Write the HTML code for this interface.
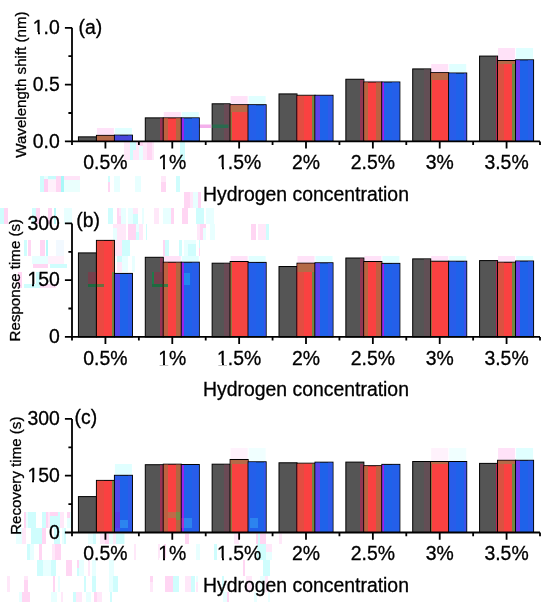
<!DOCTYPE html>
<html><head><meta charset="utf-8"><title>Hydrogen sensing response</title>
<style>
html,body{margin:0;padding:0;background:#fff;}
body{width:550px;height:602px;overflow:hidden;}
svg{display:block;font-family:"Liberation Sans",Arial,sans-serif;}
text{stroke:#000;stroke-width:0.3px;}
</style></head>
<body>
<svg width="550" height="602" viewBox="0 0 550 602">
<rect width="550" height="602" fill="#fff"/>
<rect x="124" y="142" width="4" height="18" fill="#ffe8f9"/>
<rect x="128" y="142" width="2" height="18" fill="#ffe8f9"/>
<rect x="130" y="142" width="3" height="18" fill="#cffdfd"/>
<rect x="133" y="142" width="3" height="8" fill="#cffdfd"/>
<rect x="133" y="150" width="3" height="10" fill="#ffe8f9"/>
<rect x="136" y="142" width="3" height="18" fill="#ffe8f9"/>
<rect x="139" y="142" width="4" height="4" fill="#ffd6f3"/>
<rect x="139" y="146" width="4" height="14" fill="#e8ffff"/>
<rect x="143" y="142" width="4" height="18" fill="#ffe8f9"/>
<rect x="147" y="142" width="5" height="8" fill="#ffd6f3"/>
<rect x="147" y="150" width="5" height="10" fill="#ffd6f3"/>
<rect x="152" y="142" width="2" height="18" fill="#ffe8f9"/>
<rect x="180" y="142" width="5" height="18" fill="#cffdfd"/>
<rect x="108" y="176" width="2" height="6" fill="#cffdfd"/>
<rect x="108" y="182" width="2" height="10" fill="#ffd6f3"/>
<rect x="114" y="176" width="6" height="16" fill="#e8ffff"/>
<rect x="135" y="176" width="6" height="16" fill="#e8ffff"/>
<rect x="161" y="176" width="5" height="6" fill="#ffe8f9"/>
<rect x="161" y="182" width="5" height="10" fill="#ffd6f3"/>
<rect x="176" y="176" width="4" height="16" fill="#cffdfd"/>
<rect x="184" y="192" width="6" height="4" fill="#ffd6f3"/>
<rect x="184" y="196" width="6" height="12" fill="#ffd6f3"/>
<rect x="190" y="192" width="3" height="16" fill="#ffe8f9"/>
<rect x="193" y="192" width="5" height="6" fill="#e8ffff"/>
<rect x="193" y="198" width="5" height="10" fill="#e8ffff"/>
<rect x="198" y="192" width="3" height="16" fill="#ffd6f3"/>
<rect x="108" y="208" width="5" height="16" fill="#cffdfd"/>
<rect x="117" y="208" width="2" height="16" fill="#ffd6f3"/>
<rect x="119" y="208" width="2" height="8" fill="#ffe8f9"/>
<rect x="119" y="216" width="2" height="8" fill="#ffd6f3"/>
<rect x="121" y="208" width="5" height="16" fill="#e8ffff"/>
<rect x="128" y="208" width="5" height="16" fill="#e8ffff"/>
<rect x="133" y="208" width="5" height="6" fill="#ffe8f9"/>
<rect x="133" y="214" width="5" height="10" fill="#cffdfd"/>
<rect x="142" y="208" width="2" height="16" fill="#e8ffff"/>
<rect x="154" y="208" width="5" height="16" fill="#ffe8f9"/>
<rect x="163" y="208" width="8" height="16" fill="#e8ffff"/>
<rect x="171" y="208" width="3" height="16" fill="#ffd6f3"/>
<rect x="182" y="208" width="6" height="16" fill="#ffd6f3"/>
<rect x="196" y="208" width="8" height="16" fill="#cffdfd"/>
<rect x="206" y="208" width="8" height="8" fill="#e8ffff"/>
<rect x="206" y="216" width="8" height="8" fill="#e8ffff"/>
<rect x="113" y="224" width="4" height="4" fill="#ffe8f9"/>
<rect x="113" y="228" width="4" height="12" fill="#e8ffff"/>
<rect x="117" y="224" width="3" height="16" fill="#ffe8f9"/>
<rect x="120" y="224" width="6" height="16" fill="#ffe8f9"/>
<rect x="128" y="224" width="8" height="16" fill="#ffd6f3"/>
<rect x="136" y="224" width="3" height="8" fill="#e8ffff"/>
<rect x="136" y="232" width="3" height="8" fill="#cffdfd"/>
<rect x="139" y="224" width="4" height="16" fill="#ffe8f9"/>
<rect x="146" y="224" width="1" height="16" fill="#cffdfd"/>
<rect x="197" y="224" width="3" height="16" fill="#ffe8f9"/>
<rect x="200" y="224" width="3" height="16" fill="#ffd6f3"/>
<rect x="203" y="224" width="3" height="4" fill="#ffd6f3"/>
<rect x="203" y="228" width="3" height="12" fill="#e8ffff"/>
<rect x="210" y="224" width="5" height="16" fill="#e8ffff"/>
<rect x="251" y="224" width="5" height="16" fill="#ffd6f3"/>
<rect x="258" y="224" width="8" height="16" fill="#ffe8f9"/>
<rect x="266" y="224" width="3" height="16" fill="#cffdfd"/>
<rect x="114" y="240" width="8" height="6" fill="#ffe8f9"/>
<rect x="114" y="246" width="8" height="10" fill="#ffe8f9"/>
<rect x="122" y="240" width="8" height="16" fill="#cffdfd"/>
<rect x="163" y="240" width="2" height="16" fill="#ffd6f3"/>
<rect x="165" y="240" width="4" height="16" fill="#cffdfd"/>
<rect x="179" y="240" width="3" height="16" fill="#cffdfd"/>
<rect x="184" y="240" width="4" height="16" fill="#e8ffff"/>
<rect x="188" y="240" width="8" height="4" fill="#e8ffff"/>
<rect x="188" y="244" width="8" height="12" fill="#cffdfd"/>
<rect x="199" y="240" width="1" height="8" fill="#cffdfd"/>
<rect x="199" y="248" width="1" height="8" fill="#ffd6f3"/>
<rect x="117" y="256" width="5" height="6" fill="#cffdfd"/>
<rect x="117" y="262" width="5" height="10" fill="#ffe8f9"/>
<rect x="122" y="256" width="6" height="16" fill="#e8ffff"/>
<rect x="132" y="256" width="3" height="16" fill="#e8ffff"/>
<rect x="24" y="512" width="2" height="16" fill="#ffd6f3"/>
<rect x="26" y="512" width="2" height="4" fill="#e8ffff"/>
<rect x="26" y="516" width="2" height="12" fill="#e8ffff"/>
<rect x="28" y="512" width="8" height="16" fill="#cffdfd"/>
<rect x="42" y="512" width="4" height="16" fill="#cffdfd"/>
<rect x="46" y="512" width="2" height="16" fill="#ffd6f3"/>
<rect x="48" y="512" width="2" height="16" fill="#ffe8f9"/>
<rect x="50" y="512" width="8" height="4" fill="#ffd6f3"/>
<rect x="50" y="516" width="8" height="12" fill="#cffdfd"/>
<rect x="58" y="512" width="2" height="16" fill="#cffdfd"/>
<rect x="60" y="512" width="4" height="16" fill="#ffe8f9"/>
<rect x="67" y="512" width="3" height="6" fill="#ffd6f3"/>
<rect x="67" y="518" width="3" height="10" fill="#e8ffff"/>
<rect x="70" y="512" width="2" height="16" fill="#e8ffff"/>
<rect x="16" y="528" width="6" height="16" fill="#e8ffff"/>
<rect x="22" y="528" width="4" height="16" fill="#ffe8f9"/>
<rect x="31" y="528" width="5" height="8" fill="#cffdfd"/>
<rect x="31" y="536" width="5" height="8" fill="#cffdfd"/>
<rect x="36" y="528" width="6" height="16" fill="#cffdfd"/>
<rect x="42" y="528" width="4" height="16" fill="#ffd6f3"/>
<rect x="54" y="528" width="6" height="16" fill="#cffdfd"/>
<rect x="62" y="528" width="2" height="16" fill="#e8ffff"/>
<rect x="64" y="528" width="2" height="16" fill="#cffdfd"/>
<rect x="88" y="533.5" width="5" height="10.5" fill="#e8ffff"/>
<rect x="93" y="533.5" width="3" height="10.5" fill="#cffdfd"/>
<rect x="100" y="533.5" width="5" height="10.5" fill="#ffe8f9"/>
<rect x="105" y="533.5" width="4" height="10.5" fill="#ffd6f3"/>
<rect x="109" y="533.5" width="4" height="10.5" fill="#e8ffff"/>
<rect x="113" y="533.5" width="3" height="10.5" fill="#ffe8f9"/>
<rect x="116" y="533.5" width="8" height="10.5" fill="#cffdfd"/>
<rect x="124" y="533.5" width="1" height="10.5" fill="#e8ffff"/>
<rect x="185" y="533.5" width="4" height="10.5" fill="#ffd6f3"/>
<rect x="234" y="533.5" width="5" height="10.5" fill="#ffe8f9"/>
<rect x="256" y="533.5" width="2" height="10.5" fill="#ffd6f3"/>
<rect x="258" y="533.5" width="2" height="10.5" fill="#cffdfd"/>
<rect x="260" y="533.5" width="6" height="10.5" fill="#ffd6f3"/>
<rect x="279" y="533.5" width="3" height="10.5" fill="#ffe8f9"/>
<rect x="27" y="544" width="3" height="16" fill="#cffdfd"/>
<rect x="30" y="544" width="4" height="16" fill="#e8ffff"/>
<rect x="39" y="544" width="3" height="16" fill="#ffd6f3"/>
<rect x="52" y="544" width="3" height="16" fill="#ffe8f9"/>
<rect x="55" y="544" width="6" height="16" fill="#ffd6f3"/>
<rect x="134" y="544" width="2" height="16" fill="#ffe8f9"/>
<rect x="158" y="544" width="2" height="16" fill="#ffe8f9"/>
<rect x="164" y="544" width="2" height="4" fill="#ffd6f3"/>
<rect x="164" y="548" width="2" height="12" fill="#ffd6f3"/>
<rect x="196" y="544" width="4" height="16" fill="#e8ffff"/>
<rect x="214" y="544" width="3" height="16" fill="#cffdfd"/>
<rect x="257" y="544" width="4" height="16" fill="#cffdfd"/>
<rect x="261" y="544" width="5" height="16" fill="#cffdfd"/>
<rect x="266" y="544" width="6" height="8" fill="#ffe8f9"/>
<rect x="266" y="552" width="6" height="8" fill="#e8ffff"/>
<rect x="37" y="560" width="6" height="16" fill="#cffdfd"/>
<rect x="43" y="560" width="8" height="16" fill="#e8ffff"/>
<rect x="51" y="560" width="5" height="16" fill="#cffdfd"/>
<rect x="66" y="560" width="6" height="16" fill="#ffd6f3"/>
<rect x="77" y="560" width="2" height="8" fill="#ffd6f3"/>
<rect x="77" y="568" width="2" height="8" fill="#cffdfd"/>
<rect x="79" y="560" width="5" height="16" fill="#e8ffff"/>
<rect x="88" y="560" width="2" height="8" fill="#ffe8f9"/>
<rect x="88" y="568" width="2" height="8" fill="#ffe8f9"/>
<rect x="92" y="560" width="4" height="16" fill="#e8ffff"/>
<rect x="109" y="560" width="5" height="16" fill="#e8ffff"/>
<rect x="243" y="560" width="2" height="16" fill="#ffd6f3"/>
<rect x="263" y="560" width="3" height="16" fill="#cffdfd"/>
<rect x="266" y="560" width="4" height="16" fill="#cffdfd"/>
<rect x="7" y="576" width="3" height="16" fill="#ffe8f9"/>
<rect x="24" y="576" width="4" height="4" fill="#ffe8f9"/>
<rect x="24" y="580" width="4" height="12" fill="#ffd6f3"/>
<rect x="53" y="576" width="2" height="16" fill="#ffd6f3"/>
<rect x="58" y="576" width="2" height="16" fill="#e8ffff"/>
<rect x="84" y="576" width="2" height="16" fill="#cffdfd"/>
<rect x="92" y="576" width="4" height="16" fill="#cffdfd"/>
<rect x="109" y="576" width="4" height="16" fill="#e8ffff"/>
<rect x="113" y="576" width="5" height="16" fill="#cffdfd"/>
<rect x="150" y="576" width="3" height="6" fill="#ffd6f3"/>
<rect x="150" y="582" width="3" height="10" fill="#ffe8f9"/>
<rect x="165" y="576" width="6" height="16" fill="#ffd6f3"/>
<rect x="171" y="576" width="2" height="16" fill="#ffd6f3"/>
<rect x="173" y="576" width="6" height="16" fill="#cffdfd"/>
<rect x="185" y="576" width="6" height="16" fill="#ffe8f9"/>
<rect x="191" y="576" width="4" height="8" fill="#cffdfd"/>
<rect x="191" y="584" width="4" height="8" fill="#cffdfd"/>
<rect x="196" y="576" width="2" height="6" fill="#e8ffff"/>
<rect x="196" y="582" width="2" height="10" fill="#ffe8f9"/>
<rect x="222" y="576" width="2" height="8" fill="#cffdfd"/>
<rect x="222" y="584" width="2" height="8" fill="#cffdfd"/>
<rect x="246" y="576" width="4" height="16" fill="#ffe8f9"/>
<rect x="250" y="576" width="2" height="16" fill="#ffe8f9"/>
<rect x="260" y="576" width="5" height="16" fill="#e8ffff"/>
<rect x="265" y="576" width="3" height="4" fill="#ffe8f9"/>
<rect x="265" y="580" width="3" height="12" fill="#ffe8f9"/>
<rect x="19" y="592" width="3" height="10" fill="#e8ffff"/>
<rect x="22" y="592" width="8" height="10" fill="#ffd6f3"/>
<rect x="51" y="592" width="6" height="10" fill="#e8ffff"/>
<rect x="61" y="592" width="2" height="10" fill="#ffe8f9"/>
<rect x="73" y="592" width="3" height="10" fill="#cffdfd"/>
<rect x="76" y="592" width="6" height="10" fill="#ffe8f9"/>
<rect x="86" y="592" width="5" height="10" fill="#e8ffff"/>
<rect x="94" y="592" width="3" height="10" fill="#ffd6f3"/>
<rect x="97" y="592" width="5" height="10" fill="#ffe8f9"/>
<rect x="110" y="592" width="2" height="10" fill="#cffdfd"/>
<rect x="223" y="592" width="4" height="10" fill="#e8ffff"/>
<rect x="227" y="592" width="2" height="10" fill="#ffd6f3"/>
<rect x="254" y="592" width="3" height="10" fill="#e8ffff"/>
<rect x="268" y="592" width="2" height="10" fill="#e8ffff"/>
<rect x="195" y="124.5" width="16" height="3.5" fill="#f4b0ec"/>
<rect x="40" y="176" width="4" height="16" fill="#cffdfd"/>
<rect x="44" y="176" width="4" height="3" fill="#e8ffff"/>
<rect x="44" y="179" width="4" height="13" fill="#ffd0f2"/>
<rect x="48" y="176" width="8" height="3.5" fill="#c8fcfc"/>
<rect x="48" y="179.5" width="8" height="12.5" fill="#fff0fb"/>
<rect x="56" y="176" width="5" height="16" fill="#ffd6f3"/>
<rect x="61" y="176" width="3" height="16" fill="#a8f8f8"/>
<rect x="64" y="176" width="16" height="4" fill="#ffe4f8"/>
<rect x="64" y="180" width="16" height="12" fill="#eafffd"/>
<rect x="0" y="208" width="4" height="16" fill="#cffdfd"/>
<rect x="4" y="208" width="4" height="16" fill="#ffd6f3"/>
<rect x="32" y="208" width="4" height="16" fill="#cffdfd"/>
<rect x="36" y="208" width="4" height="16" fill="#ffd6f3"/>
<rect x="48" y="208" width="4" height="16" fill="#ffd6f3"/>
<rect x="54" y="208" width="2" height="16" fill="#b8fafa"/>
<rect x="64" y="208" width="8" height="16" fill="#e8ffff"/>
<rect x="24" y="240" width="3" height="16" fill="#cffdfd"/>
<rect x="28" y="240" width="3" height="16" fill="#ffd6f3"/>
<rect x="40" y="240" width="5" height="16" fill="#ffd6f3"/>
<rect x="46" y="240" width="2" height="16" fill="#b8fafa"/>
<rect x="56" y="240" width="8" height="16" fill="#f2f9ff"/>
<rect x="32" y="256" width="16" height="8" fill="#e8ffff"/>
<rect x="48" y="256" width="16" height="8" fill="#fff0fb"/>
<rect x="33" y="264" width="15" height="4" fill="#ffd6f3"/>
<rect x="50" y="264" width="17" height="4" fill="#cffdfd"/>
<rect x="18" y="272" width="4" height="16" fill="#ffd6f3"/>
<rect x="36" y="272" width="4" height="12" fill="#cffdfd"/>
<rect x="24" y="284" width="16" height="4" fill="#cffdfd"/>
<rect x="40" y="284" width="16" height="4" fill="#ffe0f6"/>
<rect x="96.93" y="128" width="17" height="6.88" fill="#ffe2f8"/>
<rect x="114.93" y="128" width="17" height="6.65" fill="#e0ffff"/>
<rect x="163.79" y="112" width="17" height="5.38" fill="#ffe2f8"/>
<rect x="181.79" y="112" width="17" height="5.38" fill="#e0ffff"/>
<rect x="230.64" y="96" width="17" height="8.21" fill="#ffe2f8"/>
<rect x="248.64" y="96" width="17" height="8.21" fill="#e0ffff"/>
<rect x="364.36" y="80" width="17" height="1.49" fill="#fff2fc"/>
<rect x="382.36" y="80" width="17" height="1.49" fill="#f0ffff"/>
<rect x="431.21" y="64" width="17" height="8.17" fill="#ffe2f8"/>
<rect x="449.21" y="64" width="17" height="8.51" fill="#e0ffff"/>
<rect x="498.07" y="48" width="17" height="12.02" fill="#ffe2f8"/>
<rect x="516.07" y="48" width="17" height="11.34" fill="#e0ffff"/>
<rect x="163.79" y="256" width="17" height="5.72" fill="#ffe2f8"/>
<rect x="181.79" y="256" width="17" height="5.72" fill="#e0ffff"/>
<rect x="230.64" y="256" width="17" height="5" fill="#ffe2f8"/>
<rect x="248.64" y="256" width="17" height="5.91" fill="#e0ffff"/>
<rect x="297.5" y="256" width="17" height="6.7" fill="#ffe2f8"/>
<rect x="315.5" y="256" width="17" height="6.28" fill="#e0ffff"/>
<rect x="364.36" y="256" width="17" height="5" fill="#ffe2f8"/>
<rect x="382.36" y="256" width="17" height="6.89" fill="#e0ffff"/>
<rect x="431.21" y="256" width="17" height="4.73" fill="#ffe2f8"/>
<rect x="449.21" y="256" width="17" height="4.73" fill="#e0ffff"/>
<rect x="498.07" y="256" width="17" height="5.72" fill="#ffe2f8"/>
<rect x="516.07" y="256" width="17" height="4.51" fill="#e0ffff"/>
<rect x="114.93" y="464" width="17" height="10.82" fill="#e0ffff"/>
<rect x="230.64" y="448" width="17" height="10.99" fill="#fff2fc"/>
<rect x="248.64" y="448" width="17" height="13.3" fill="#f0ffff"/>
<rect x="431.21" y="448" width="17" height="13" fill="#fff2fc"/>
<rect x="449.21" y="448" width="17" height="13" fill="#f0ffff"/>
<rect x="498.07" y="448" width="17" height="11.79" fill="#ffe2f8"/>
<rect x="516.07" y="448" width="17" height="11.79" fill="#e0ffff"/>
<rect x="78.43" y="136.86" width="18" height="4.54" fill="#555555" stroke="#000" stroke-width="1"/>
<rect x="96.43" y="135.38" width="18" height="6.02" fill="#fa4141" stroke="#000" stroke-width="1"/>
<rect x="96.93" y="135.88" width="7.07" height="4.62" fill="#b46a48"/>
<rect x="104" y="135.88" width="8" height="4.62" fill="#b46a48"/>
<rect x="112" y="135.88" width="1.93" height="4.62" fill="#b46a48"/>
<rect x="114.43" y="135.15" width="18" height="6.25" fill="#1f62ea" stroke="#000" stroke-width="1"/>
<rect x="114.93" y="135.65" width="5.07" height="4.85" fill="#5447ea"/>
<rect x="128" y="135.65" width="3.93" height="4.85" fill="#2c5bea"/>
<rect x="114.93" y="135.9" width="17" height="4.6" fill="#4646dc"/>
<rect x="145.29" y="117.88" width="18" height="23.52" fill="#555555" stroke="#000" stroke-width="1"/>
<rect x="160" y="118.38" width="2.79" height="22.12" fill="#983355"/>
<rect x="163.29" y="117.88" width="18" height="23.52" fill="#fa4141" stroke="#000" stroke-width="1"/>
<rect x="163.79" y="118.38" width="4.21" height="22.12" fill="#bc6141"/>
<rect x="176" y="118.38" width="4.79" height="22.12" fill="#b36541"/>
<rect x="181.29" y="117.88" width="18" height="23.52" fill="#1f62ea" stroke="#000" stroke-width="1"/>
<rect x="181.79" y="118.38" width="2.21" height="22.12" fill="#9825ea"/>
<rect x="192" y="118.38" width="6.79" height="22.12" fill="#285dea"/>
<rect x="212.14" y="103.8" width="18" height="37.6" fill="#555555" stroke="#000" stroke-width="1"/>
<rect x="224" y="104.3" width="5.64" height="36.2" fill="#6a4a55"/>
<rect x="212.5" y="124.5" width="16" height="3.5" fill="#2a6a4e"/>
<rect x="230.14" y="104.71" width="18" height="36.69" fill="#fa4141" stroke="#000" stroke-width="1"/>
<rect x="230.64" y="105.21" width="1.36" height="6.79" fill="#b46a48"/>
<rect x="230.64" y="112" width="1.36" height="28.5" fill="#8e7841"/>
<rect x="232" y="105.21" width="8" height="6.79" fill="#b46a48"/>
<rect x="240" y="105.21" width="7.64" height="6.79" fill="#b46a48"/>
<rect x="240" y="112" width="7.64" height="28.5" fill="#f04641"/>
<rect x="248.14" y="104.71" width="18" height="36.69" fill="#1f62ea" stroke="#000" stroke-width="1"/>
<rect x="248.64" y="105.21" width="7.36" height="35.29" fill="#245fea"/>
<rect x="264" y="105.21" width="1.64" height="35.29" fill="#3a54ea"/>
<rect x="279" y="93.92" width="18" height="47.48" fill="#555555" stroke="#000" stroke-width="1"/>
<rect x="296" y="94.42" width="0.5" height="1.58" fill="#664d55"/>
<rect x="296" y="96" width="0.5" height="44.5" fill="#be1f55"/>
<rect x="297" y="95.28" width="18" height="46.12" fill="#fa4141" stroke="#000" stroke-width="1"/>
<rect x="297.5" y="95.78" width="6.5" height="0.22" fill="#b46a48"/>
<rect x="297.5" y="96" width="6.5" height="44.5" fill="#e24d41"/>
<rect x="304" y="95.78" width="8" height="0.22" fill="#b46a48"/>
<rect x="312" y="95.78" width="2.5" height="0.22" fill="#b46a48"/>
<rect x="312" y="96" width="2.5" height="44.5" fill="#718741"/>
<rect x="315" y="95.28" width="18" height="46.12" fill="#1f62ea" stroke="#000" stroke-width="1"/>
<rect x="315.5" y="95.78" width="4.5" height="44.72" fill="#5e42ea"/>
<rect x="320" y="95.78" width="8" height="0.22" fill="#5845ea"/>
<rect x="328" y="95.78" width="4.5" height="0.22" fill="#5a44ea"/>
<rect x="328" y="96" width="4.5" height="44.5" fill="#2f5aea"/>
<rect x="345.86" y="79.26" width="18" height="62.14" fill="#555555" stroke="#000" stroke-width="1"/>
<rect x="360" y="80" width="3.36" height="16" fill="#893b55"/>
<rect x="360" y="96" width="3.36" height="44.5" fill="#913755"/>
<rect x="363.86" y="81.99" width="18" height="59.41" fill="#fa4141" stroke="#000" stroke-width="1"/>
<rect x="364.36" y="82.49" width="3.64" height="58.01" fill="#b46541"/>
<rect x="376" y="82.49" width="5.36" height="58.01" fill="#be6041"/>
<rect x="381.86" y="81.99" width="18" height="59.41" fill="#1f62ea" stroke="#000" stroke-width="1"/>
<rect x="382.36" y="82.49" width="1.64" height="58.01" fill="#a31fea"/>
<rect x="392" y="82.49" width="7.36" height="58.01" fill="#245fea"/>
<rect x="412.71" y="68.92" width="18" height="72.48" fill="#555555" stroke="#000" stroke-width="1"/>
<rect x="424" y="69.42" width="6.21" height="10.58" fill="#5f5055"/>
<rect x="424" y="80" width="6.21" height="60.5" fill="#634e55"/>
<rect x="430.71" y="72.67" width="18" height="68.73" fill="#fa4141" stroke="#000" stroke-width="1"/>
<rect x="431.21" y="73.17" width="0.79" height="6.83" fill="#b46a48"/>
<rect x="431.21" y="80" width="0.79" height="60.5" fill="#867c41"/>
<rect x="432" y="73.17" width="8" height="6.83" fill="#b46a48"/>
<rect x="440" y="73.17" width="8" height="6.83" fill="#b46a48"/>
<rect x="448" y="73.17" width="0.21" height="6.83" fill="#b46a48"/>
<rect x="448" y="80" width="0.21" height="60.5" fill="#718741"/>
<rect x="448.71" y="73.01" width="18" height="68.39" fill="#1f62ea" stroke="#000" stroke-width="1"/>
<rect x="449.21" y="73.51" width="6.79" height="66.99" fill="#285dea"/>
<rect x="464" y="73.51" width="2.21" height="66.99" fill="#3c53ea"/>
<rect x="479.57" y="56.09" width="18" height="85.31" fill="#555555" stroke="#000" stroke-width="1"/>
<rect x="496" y="56.59" width="1.07" height="7.41" fill="#923655"/>
<rect x="496" y="64" width="1.07" height="76.5" fill="#b62455"/>
<rect x="497.57" y="60.52" width="18" height="80.88" fill="#fa4141" stroke="#000" stroke-width="1"/>
<rect x="498.07" y="61.02" width="5.93" height="2.98" fill="#b46a48"/>
<rect x="498.07" y="64" width="5.93" height="76.5" fill="#d95241"/>
<rect x="504" y="61.02" width="8" height="2.98" fill="#b46a48"/>
<rect x="512" y="61.02" width="3.07" height="2.98" fill="#b46a48"/>
<rect x="512" y="64" width="3.07" height="76.5" fill="#718741"/>
<rect x="515.57" y="59.84" width="18" height="81.56" fill="#1f62ea" stroke="#000" stroke-width="1"/>
<rect x="516.07" y="60.34" width="3.93" height="80.16" fill="#6f39ea"/>
<rect x="528" y="60.34" width="5.07" height="80.16" fill="#295dea"/>
<path d="M72 27.8V145.1M65 141.4H540M64.9 141.4H72M68.4 113H72M64.9 84.6H72M68.4 56.2H72M64.9 27.8H72M72 141.4V145.1M105.43 141.4V148.6M138.86 141.4V145.1M172.29 141.4V148.6M205.71 141.4V145.1M239.14 141.4V148.6M272.57 141.4V145.1M306 141.4V148.6M339.43 141.4V145.1M372.86 141.4V148.6M406.29 141.4V145.1M439.71 141.4V148.6M473.14 141.4V145.1M506.57 141.4V148.6M540 141.4V145.1" stroke="#000" stroke-width="1.8" fill="none"/>
<text x="59.8" y="147.7" text-anchor="end" font-size="19.4">0.0</text>
<text x="59.8" y="90.9" text-anchor="end" font-size="19.4">0.5</text>
<text x="59.8" y="34.1" text-anchor="end" font-size="19.4">1.0</text>
<rect x="34" y="32" width="4" height="3" fill="#fff"/>
<rect x="40" y="32" width="3" height="3" fill="#fff"/>
<text x="105.43" y="169.2" text-anchor="middle" font-size="19.4">0.5%</text>
<text x="172.29" y="169.2" text-anchor="middle" font-size="19.4">1%</text>
<rect x="159" y="167" width="4" height="3" fill="#fff"/>
<rect x="165" y="167" width="4" height="3" fill="#fff"/>
<text x="239.14" y="169.2" text-anchor="middle" font-size="19.4">1.5%</text>
<rect x="218" y="167" width="4" height="3" fill="#fff"/>
<rect x="224" y="167" width="4" height="3" fill="#fff"/>
<text x="306" y="169.2" text-anchor="middle" font-size="19.4">2%</text>
<text x="372.86" y="169.2" text-anchor="middle" font-size="19.4">2.5%</text>
<text x="439.71" y="169.2" text-anchor="middle" font-size="19.4">3%</text>
<text x="506.57" y="169.2" text-anchor="middle" font-size="19.4">3.5%</text>
<text x="306" y="200.8" text-anchor="middle" font-size="19.4">Hydrogen concentration</text>
<text transform="translate(25.7 84.6) rotate(-90)" text-anchor="middle" font-size="15.1">Wavelength shift (nm)</text>
<text x="78.5" y="33.8" font-size="19.4">(a)</text>
<rect x="78.43" y="252.91" width="18" height="83.99" fill="#555555" stroke="#000" stroke-width="1"/>
<rect x="88" y="272" width="8.4" height="12" fill="#74404c"/>
<rect x="88" y="284" width="8.4" height="3" fill="#1e6a40"/>
<rect x="96.43" y="240.39" width="18" height="96.51" fill="#fa4141" stroke="#000" stroke-width="1"/>
<rect x="96.93" y="240.89" width="7.07" height="95.11" fill="#ea4941"/>
<rect x="112" y="240.89" width="1.93" height="31.11" fill="#cd5841"/>
<rect x="112" y="272" width="1.93" height="64" fill="#718741"/>
<rect x="96.93" y="284" width="7.07" height="3" fill="#6a7040"/>
<rect x="114.43" y="273.42" width="18" height="63.48" fill="#1f62ea" stroke="#000" stroke-width="1"/>
<rect x="114.93" y="273.92" width="5.07" height="62.08" fill="#5447ea"/>
<rect x="128" y="273.92" width="3.93" height="62.08" fill="#2c5bea"/>
<rect x="145.29" y="257.3" width="18" height="79.6" fill="#555555" stroke="#000" stroke-width="1"/>
<rect x="160" y="257.8" width="2.79" height="14.2" fill="#873c55"/>
<rect x="160" y="272" width="2.79" height="64" fill="#983355"/>
<rect x="152" y="272" width="10.8" height="12" fill="#74404c"/>
<rect x="152" y="272" width="2" height="15" fill="#1e7a4a"/>
<rect x="152" y="284" width="10.8" height="3" fill="#1e6a40"/>
<rect x="163.29" y="262.22" width="18" height="74.68" fill="#fa4141" stroke="#000" stroke-width="1"/>
<rect x="163.79" y="262.72" width="4.21" height="73.28" fill="#bc6141"/>
<rect x="176" y="262.72" width="4.79" height="73.28" fill="#b36541"/>
<rect x="163.8" y="284" width="4.2" height="3" fill="#3a7a46"/>
<rect x="181.29" y="262.22" width="18" height="74.68" fill="#1f62ea" stroke="#000" stroke-width="1"/>
<rect x="181.79" y="262.72" width="2.21" height="73.28" fill="#9825ea"/>
<rect x="192" y="262.72" width="6.79" height="73.28" fill="#285dea"/>
<rect x="184" y="273" width="6" height="12" fill="#2088f0"/>
<rect x="212.14" y="263.2" width="18" height="73.7" fill="#555555" stroke="#000" stroke-width="1"/>
<rect x="224" y="263.7" width="5.64" height="72.3" fill="#6a4a55"/>
<rect x="230.14" y="261.5" width="18" height="75.4" fill="#fa4141" stroke="#000" stroke-width="1"/>
<rect x="230.64" y="262" width="1.36" height="74" fill="#8e7841"/>
<rect x="240" y="262" width="7.64" height="74" fill="#f04641"/>
<rect x="248.14" y="262.41" width="18" height="74.49" fill="#1f62ea" stroke="#000" stroke-width="1"/>
<rect x="248.64" y="262.91" width="7.36" height="73.09" fill="#245fea"/>
<rect x="264" y="262.91" width="1.64" height="73.09" fill="#3a54ea"/>
<rect x="279" y="266.53" width="18" height="70.37" fill="#555555" stroke="#000" stroke-width="1"/>
<rect x="296" y="267.03" width="0.5" height="68.97" fill="#be1f55"/>
<rect x="297" y="263.2" width="18" height="73.7" fill="#fa4141" stroke="#000" stroke-width="1"/>
<rect x="297.5" y="263.7" width="6.5" height="8.3" fill="#b46a48"/>
<rect x="297.5" y="272" width="6.5" height="64" fill="#e24d41"/>
<rect x="304" y="263.7" width="8" height="8.3" fill="#b46a48"/>
<rect x="312" y="263.7" width="2.5" height="8.3" fill="#b46a48"/>
<rect x="312" y="272" width="2.5" height="64" fill="#718741"/>
<rect x="315" y="262.78" width="18" height="74.12" fill="#1f62ea" stroke="#000" stroke-width="1"/>
<rect x="315.5" y="263.28" width="4.5" height="72.72" fill="#5f42ea"/>
<rect x="328" y="263.28" width="4.5" height="72.72" fill="#2f5aea"/>
<rect x="345.86" y="258.02" width="18" height="78.88" fill="#555555" stroke="#000" stroke-width="1"/>
<rect x="360" y="258.52" width="3.36" height="13.48" fill="#863c55"/>
<rect x="360" y="272" width="3.36" height="64" fill="#913755"/>
<rect x="363.86" y="261.5" width="18" height="75.4" fill="#fa4141" stroke="#000" stroke-width="1"/>
<rect x="364.36" y="262" width="3.64" height="74" fill="#b46541"/>
<rect x="376" y="262" width="5.36" height="74" fill="#c15e41"/>
<rect x="381.86" y="263.39" width="18" height="73.51" fill="#1f62ea" stroke="#000" stroke-width="1"/>
<rect x="382.36" y="263.89" width="1.64" height="72.11" fill="#a31fea"/>
<rect x="392" y="263.89" width="7.36" height="72.11" fill="#245fea"/>
<rect x="412.71" y="258.89" width="18" height="78.01" fill="#555555" stroke="#000" stroke-width="1"/>
<rect x="424" y="259.39" width="6.21" height="76.61" fill="#614f55"/>
<rect x="430.71" y="261.23" width="18" height="75.67" fill="#fa4141" stroke="#000" stroke-width="1"/>
<rect x="431.21" y="261.73" width="0.79" height="74.27" fill="#867c41"/>
<rect x="448" y="261.73" width="0.21" height="74.27" fill="#718741"/>
<rect x="448.71" y="261.23" width="18" height="75.67" fill="#1f62ea" stroke="#000" stroke-width="1"/>
<rect x="449.21" y="261.73" width="6.79" height="74.27" fill="#285dea"/>
<rect x="464" y="261.73" width="2.21" height="74.27" fill="#3c53ea"/>
<rect x="479.57" y="260.59" width="18" height="76.31" fill="#555555" stroke="#000" stroke-width="1"/>
<rect x="496" y="261.09" width="1.07" height="10.91" fill="#ae2855"/>
<rect x="496" y="272" width="1.07" height="64" fill="#b62455"/>
<rect x="497.57" y="262.22" width="18" height="74.68" fill="#fa4141" stroke="#000" stroke-width="1"/>
<rect x="498.07" y="262.72" width="5.93" height="73.28" fill="#d95241"/>
<rect x="512" y="262.72" width="3.07" height="73.28" fill="#718741"/>
<rect x="515.57" y="261.01" width="18" height="75.89" fill="#1f62ea" stroke="#000" stroke-width="1"/>
<rect x="516.07" y="261.51" width="3.93" height="10.49" fill="#6b3bea"/>
<rect x="516.07" y="272" width="3.93" height="64" fill="#6f39ea"/>
<rect x="528" y="261.51" width="5.07" height="74.49" fill="#295dea"/>
<path d="M72 223.4V340.6M65 336.9H540M64.9 336.9H72M68.4 308.52H72M64.9 280.15H72M68.4 251.78H72M64.9 223.4H72M72 336.9V340.6M105.43 336.9V344.1M138.86 336.9V340.6M172.29 336.9V344.1M205.71 336.9V340.6M239.14 336.9V344.1M272.57 336.9V340.6M306 336.9V344.1M339.43 336.9V340.6M372.86 336.9V344.1M406.29 336.9V340.6M439.71 336.9V344.1M473.14 336.9V340.6M506.57 336.9V344.1M540 336.9V340.6" stroke="#000" stroke-width="1.8" fill="none"/>
<text x="59.8" y="343.2" text-anchor="end" font-size="19.4">0</text>
<text x="59.8" y="286.45" text-anchor="end" font-size="19.4">150</text>
<rect x="28" y="284" width="4" height="3" fill="#cffdfd"/>
<rect x="34" y="284" width="4" height="3" fill="#cffdfd"/>
<text x="59.8" y="229.7" text-anchor="end" font-size="19.4">300</text>
<text x="105.43" y="364.7" text-anchor="middle" font-size="19.4">0.5%</text>
<text x="172.29" y="364.7" text-anchor="middle" font-size="19.4">1%</text>
<rect x="159" y="363" width="4" height="2" fill="#fff"/>
<rect x="165" y="363" width="4" height="2" fill="#fff"/>
<text x="239.14" y="364.7" text-anchor="middle" font-size="19.4">1.5%</text>
<rect x="218" y="363" width="4" height="2" fill="#fff"/>
<rect x="224" y="363" width="4" height="2" fill="#fff"/>
<text x="306" y="364.7" text-anchor="middle" font-size="19.4">2%</text>
<text x="372.86" y="364.7" text-anchor="middle" font-size="19.4">2.5%</text>
<text x="439.71" y="364.7" text-anchor="middle" font-size="19.4">3%</text>
<text x="506.57" y="364.7" text-anchor="middle" font-size="19.4">3.5%</text>
<text x="306" y="396.3" text-anchor="middle" font-size="19.4">Hydrogen concentration</text>
<text transform="translate(20 280.15) rotate(-90)" text-anchor="middle" font-size="15.1">Response time (s)</text>
<text x="76.3" y="227" font-size="19.4">(b)</text>
<rect x="78.43" y="496.6" width="18" height="35.9" fill="#555555" stroke="#000" stroke-width="1"/>
<rect x="96.43" y="480.4" width="18" height="52.1" fill="#fa4141" stroke="#000" stroke-width="1"/>
<rect x="96.93" y="480.9" width="7.07" height="50.7" fill="#ea4941"/>
<rect x="112" y="480.9" width="1.93" height="50.7" fill="#718741"/>
<rect x="114.43" y="475.32" width="18" height="57.18" fill="#1f62ea" stroke="#000" stroke-width="1"/>
<rect x="114.93" y="475.82" width="5.07" height="4.18" fill="#2d5bea"/>
<rect x="114.93" y="480" width="5.07" height="51.6" fill="#5348ea"/>
<rect x="128" y="475.82" width="3.93" height="55.78" fill="#2c5bea"/>
<rect x="120" y="520" width="8" height="8" fill="#2c84ef"/>
<rect x="115" y="512" width="5" height="16" fill="#5a3ae6"/>
<rect x="145.29" y="464.72" width="18" height="67.78" fill="#555555" stroke="#000" stroke-width="1"/>
<rect x="160" y="465.22" width="2.79" height="66.38" fill="#983355"/>
<rect x="163.29" y="464.19" width="18" height="68.31" fill="#fa4141" stroke="#000" stroke-width="1"/>
<rect x="163.79" y="464.69" width="4.21" height="66.91" fill="#bc6141"/>
<rect x="176" y="464.69" width="4.79" height="66.91" fill="#b36541"/>
<rect x="168" y="512" width="8" height="6" fill="#c06a48"/>
<rect x="176" y="512" width="4" height="8" fill="#7a8a48"/>
<rect x="181.29" y="464.49" width="18" height="68.01" fill="#1f62ea" stroke="#000" stroke-width="1"/>
<rect x="181.79" y="464.99" width="2.21" height="66.61" fill="#9825ea"/>
<rect x="192" y="464.99" width="6.79" height="66.61" fill="#285dea"/>
<rect x="184" y="518" width="8" height="10" fill="#2c84ef"/>
<rect x="181.8" y="518" width="2.2" height="10" fill="#b030d0"/>
<rect x="212.14" y="464.19" width="18" height="68.31" fill="#555555" stroke="#000" stroke-width="1"/>
<rect x="224" y="464.69" width="5.64" height="66.91" fill="#6a4a55"/>
<rect x="230.14" y="459.49" width="18" height="73.01" fill="#fa4141" stroke="#000" stroke-width="1"/>
<rect x="230.64" y="459.99" width="1.36" height="4.01" fill="#b46a48"/>
<rect x="230.64" y="464" width="1.36" height="67.6" fill="#8e7841"/>
<rect x="232" y="459.99" width="8" height="4.01" fill="#b46a48"/>
<rect x="240" y="459.99" width="7.64" height="4.01" fill="#b46a48"/>
<rect x="240" y="464" width="7.64" height="67.6" fill="#f04641"/>
<rect x="248.14" y="461.8" width="18" height="70.7" fill="#1f62ea" stroke="#000" stroke-width="1"/>
<rect x="248.64" y="462.3" width="7.36" height="69.3" fill="#245fea"/>
<rect x="264" y="462.3" width="1.64" height="69.3" fill="#3a54ea"/>
<rect x="250" y="518" width="8" height="10" fill="#2c84ef"/>
<rect x="279" y="462.79" width="18" height="69.71" fill="#555555" stroke="#000" stroke-width="1"/>
<rect x="296" y="463.29" width="0.5" height="0.71" fill="#624e55"/>
<rect x="296" y="464" width="0.5" height="67.6" fill="#be1f55"/>
<rect x="297" y="463.2" width="18" height="69.3" fill="#fa4141" stroke="#000" stroke-width="1"/>
<rect x="297.5" y="463.7" width="6.5" height="0.3" fill="#b46a48"/>
<rect x="297.5" y="464" width="6.5" height="67.6" fill="#e24d41"/>
<rect x="304" y="463.7" width="8" height="0.3" fill="#b46a48"/>
<rect x="312" y="463.7" width="2.5" height="0.3" fill="#b46a48"/>
<rect x="312" y="464" width="2.5" height="67.6" fill="#718741"/>
<rect x="315" y="462.18" width="18" height="70.32" fill="#1f62ea" stroke="#000" stroke-width="1"/>
<rect x="315.5" y="462.68" width="4.5" height="1.32" fill="#4350ea"/>
<rect x="315.5" y="464" width="4.5" height="67.6" fill="#5f42ea"/>
<rect x="328" y="462.68" width="4.5" height="68.92" fill="#2f5aea"/>
<rect x="345.86" y="462.11" width="18" height="70.39" fill="#555555" stroke="#000" stroke-width="1"/>
<rect x="360" y="464" width="3.36" height="16" fill="#8a3a55"/>
<rect x="360" y="480" width="3.36" height="51.6" fill="#913755"/>
<rect x="363.86" y="465.7" width="18" height="66.8" fill="#fa4141" stroke="#000" stroke-width="1"/>
<rect x="364.36" y="466.2" width="3.64" height="65.4" fill="#b46541"/>
<rect x="376" y="466.2" width="5.36" height="65.4" fill="#be6041"/>
<rect x="381.86" y="464.38" width="18" height="68.12" fill="#1f62ea" stroke="#000" stroke-width="1"/>
<rect x="382.36" y="464.88" width="1.64" height="15.12" fill="#9d22ea"/>
<rect x="382.36" y="480" width="1.64" height="51.6" fill="#a31fea"/>
<rect x="392" y="464.88" width="7.36" height="66.72" fill="#245fea"/>
<rect x="412.71" y="461.5" width="18" height="71" fill="#555555" stroke="#000" stroke-width="1"/>
<rect x="424" y="462" width="6.21" height="69.6" fill="#634e55"/>
<rect x="430.71" y="461.5" width="18" height="71" fill="#fa4141" stroke="#000" stroke-width="1"/>
<rect x="431.21" y="462" width="0.79" height="2" fill="#b46a48"/>
<rect x="431.21" y="464" width="0.79" height="67.6" fill="#867c41"/>
<rect x="432" y="462" width="8" height="2" fill="#b46a48"/>
<rect x="440" y="462" width="8" height="2" fill="#b46a48"/>
<rect x="448" y="462" width="0.21" height="2" fill="#b46a48"/>
<rect x="448" y="464" width="0.21" height="67.6" fill="#718741"/>
<rect x="448.71" y="461.5" width="18" height="71" fill="#1f62ea" stroke="#000" stroke-width="1"/>
<rect x="449.21" y="462" width="6.79" height="69.6" fill="#285dea"/>
<rect x="464" y="462" width="2.21" height="69.6" fill="#3c53ea"/>
<rect x="479.57" y="463.39" width="18" height="69.11" fill="#555555" stroke="#000" stroke-width="1"/>
<rect x="496" y="463.89" width="1.07" height="0.11" fill="#973355"/>
<rect x="496" y="464" width="1.07" height="67.6" fill="#b62455"/>
<rect x="497.57" y="460.29" width="18" height="72.21" fill="#fa4141" stroke="#000" stroke-width="1"/>
<rect x="498.07" y="460.79" width="5.93" height="3.21" fill="#b46a48"/>
<rect x="498.07" y="464" width="5.93" height="67.6" fill="#d95241"/>
<rect x="504" y="460.79" width="8" height="3.21" fill="#b46a48"/>
<rect x="512" y="460.79" width="3.07" height="3.21" fill="#b46a48"/>
<rect x="512" y="464" width="3.07" height="67.6" fill="#718741"/>
<rect x="515.57" y="460.29" width="18" height="72.21" fill="#1f62ea" stroke="#000" stroke-width="1"/>
<rect x="516.07" y="460.79" width="3.93" height="70.81" fill="#6f39ea"/>
<rect x="528" y="460.79" width="5.07" height="70.81" fill="#295dea"/>
<path d="M72 418.9V536.2M65 532.5H540M64.9 532.5H72M68.4 504.1H72M64.9 475.7H72M68.4 447.3H72M64.9 418.9H72M72 532.5V536.2M105.43 532.5V539.7M138.86 532.5V536.2M172.29 532.5V539.7M205.71 532.5V536.2M239.14 532.5V539.7M272.57 532.5V536.2M306 532.5V539.7M339.43 532.5V536.2M372.86 532.5V539.7M406.29 532.5V536.2M439.71 532.5V539.7M473.14 532.5V536.2M506.57 532.5V539.7M540 532.5V536.2" stroke="#000" stroke-width="1.8" fill="none"/>
<text x="59.8" y="538.8" text-anchor="end" font-size="19.4">0</text>
<text x="59.8" y="482" text-anchor="end" font-size="19.4">150</text>
<rect x="28" y="480" width="4" height="3" fill="#fff"/>
<rect x="34" y="480" width="4" height="3" fill="#fff"/>
<text x="59.8" y="425.2" text-anchor="end" font-size="19.4">300</text>
<text x="105.43" y="560.3" text-anchor="middle" font-size="19.4">0.5%</text>
<text x="172.29" y="560.3" text-anchor="middle" font-size="19.4">1%</text>
<rect x="159" y="558" width="4" height="3" fill="#fff"/>
<rect x="165" y="558" width="4" height="3" fill="#fff"/>
<text x="239.14" y="560.3" text-anchor="middle" font-size="19.4">1.5%</text>
<rect x="218" y="558" width="4" height="3" fill="#fff"/>
<rect x="224" y="558" width="4" height="3" fill="#fff"/>
<text x="306" y="560.3" text-anchor="middle" font-size="19.4">2%</text>
<text x="372.86" y="560.3" text-anchor="middle" font-size="19.4">2.5%</text>
<text x="439.71" y="560.3" text-anchor="middle" font-size="19.4">3%</text>
<text x="506.57" y="560.3" text-anchor="middle" font-size="19.4">3.5%</text>
<text x="306" y="591.9" text-anchor="middle" font-size="19.4">Hydrogen concentration</text>
<text transform="translate(20.5 475.7) rotate(-90)" text-anchor="middle" font-size="15.1">Recovery time (s)</text>
<text x="74.5" y="423.9" font-size="19.4">(c)</text>

</svg>
</body></html>
